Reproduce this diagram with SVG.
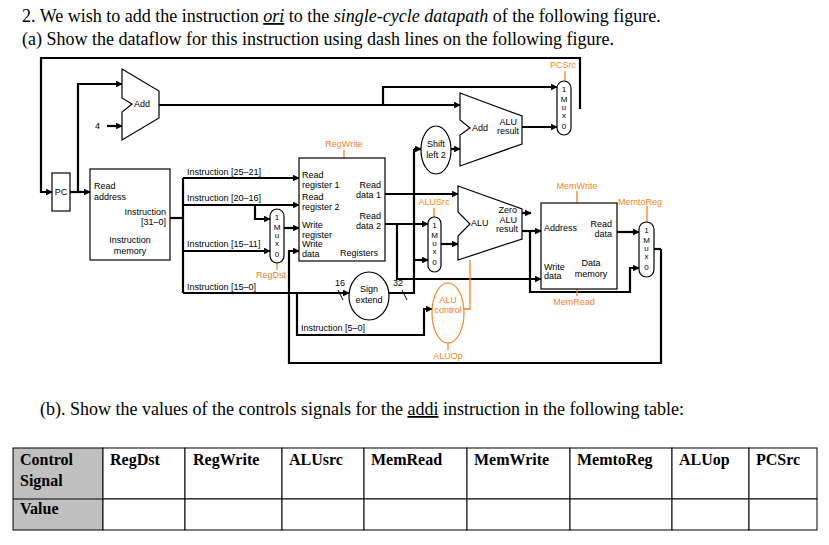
<svg xmlns="http://www.w3.org/2000/svg" width="829" height="545" viewBox="0 0 829 545">
<defs>
<marker id="ar" viewBox="0 0 10 10" refX="9" refY="5" markerWidth="3" markerHeight="3" orient="auto"><path d="M0,0 L10,5 L0,10 z" fill="#000"/></marker>
<style>
.t{font-family:"Liberation Serif",serif;font-size:18px;fill:#000}
.l{font-family:"Liberation Sans",Arial,sans-serif;font-size:9px;fill:#000}
.m{font-family:"Liberation Sans",Arial,sans-serif;font-size:8px;fill:#000;text-anchor:middle}
.o{font-family:"Liberation Sans",Arial,sans-serif;font-size:9px;fill:#f0862a}
.b{fill:#fff;stroke:#000;stroke-width:1.2}
.w{fill:none;stroke:#000;stroke-width:2.2}
.wa{fill:none;stroke:#000;stroke-width:2.2;marker-end:url(#ar)}
.c{fill:none;stroke:#f0862a;stroke-width:1.3}
.th{font-family:"Liberation Serif",serif;font-size:16px;font-weight:bold;fill:#000}
.cell{fill:#fff;stroke:#000;stroke-width:1}
</style>
</defs>
<rect width="829" height="545" fill="#fff"/>
<text class="t" x="22" y="22">2.  We wish to add the instruction <tspan font-style="italic" text-decoration="underline">ori</tspan> to the <tspan font-style="italic">single-cycle datapath</tspan> of the following figure.</text>
<text class="t" x="22" y="45">(a) Show the dataflow for this instruction using dash lines on the following figure.</text>

<g id="connectors">
<path class="wa" d="M579,108 H580 V58 H41 V192 H52"/>
<path class="wa" d="M70,192 H90"/>
<path class="wa" d="M78,192 V84 H122"/>
<path class="wa" d="M107,126 H122"/>
<path class="wa" d="M159,105 H460"/>
<path class="wa" d="M383,105 V87 H557"/>
<path class="wa" d="M522,127 H557"/>
<path class="wa" d="M451,149 H460"/>
<path class="w" d="M170,218 H183"/>
<path class="w" d="M183,178 V293"/>
<path class="wa" d="M183,178 H299"/>
<path class="wa" d="M183,205 H299"/>
<path class="wa" d="M255,205 V219 H270"/>
<path class="wa" d="M183,251 H270"/>
<path class="wa" d="M183,293 H349"/>
<path class="wa" d="M284,228 H299"/>
<path class="wa" d="M661,249 V363 H289 V251 H299"/>
<path class="wa" d="M297,293 V335 H424 V309 H432"/>
<path class="w" d="M389,293 H414 V149"/>
<path class="wa" d="M414,149 H421"/>
<path class="wa" d="M414,260 H428"/>
<path class="wa" d="M385,194 H458"/>
<path class="wa" d="M385,224 H428"/>
<path class="wa" d="M397,224 V279 H541"/>
<path class="wa" d="M441,244 H458"/>
<path class="wa" d="M522,213 H531"/>
<path class="wa" d="M522,231 H541"/>
<path class="wa" d="M530,231 V292 H630 V268 H639"/>
<path class="wa" d="M617,232 H639"/>
<path class="w" d="M654,249 H661"/>
<path d="M338,290 L343,300 M402,290 L407,300" stroke="#000" stroke-width="1"/>
<path class="c" d="M470,260 V309 H464" stroke-width="2"/>
<path class="c" d="M565,71 V81 M277,263 V270 M344,150 V158 M434,208 V217 M577,191 V203 M577,289 V296 M647,206 V222 M448,343 V350"/>
</g>

<g id="pc"><rect class="b" x="52" y="173" width="18" height="38"/><text class="l" x="61" y="195" text-anchor="middle">PC</text></g>
<g id="add1"><path class="b" d="M122,69 L159,91 V118 L122,140 V112 L132,104 L122,98 Z"/><text class="l" x="134" y="107">Add</text><text class="l" x="100" y="129" text-anchor="end">4</text></g>
<g id="imem"><rect class="b" x="90" y="169" width="80" height="91"/>
<text class="l" x="94" y="189">Read</text><text class="l" x="94" y="200">address</text>
<text class="l" x="166" y="215" text-anchor="end">Instruction</text><text class="l" x="166" y="225" text-anchor="end">[31–0]</text>
<text class="l" x="130" y="243" text-anchor="middle">Instruction</text><text class="l" x="130" y="254" text-anchor="middle">memory</text></g>
<g id="labels-instr">
<text class="l" x="187" y="175">Instruction [25–21]</text>
<text class="l" x="187" y="201">Instruction [20–16]</text>
<text class="l" x="187" y="247">Instruction [15–11]</text>
<text class="l" x="187" y="290">Instruction [15–0]</text>
<text class="l" x="301" y="331">Instruction [5–0]</text>
</g>
<g id="regdst"><rect class="b" x="270" y="209" width="14" height="54" rx="7"/>
<text class="m" x="277" y="220">1</text><text class="m" x="277" y="230">M</text><text class="m" x="277" y="238">u</text><text class="m" x="277" y="246">x</text><text class="m" x="277" y="257">0</text>
<text class="o" x="271" y="278" text-anchor="middle">RegDst</text></g>
<g id="regs"><rect class="b" x="299" y="158" width="86" height="103"/>
<text class="o" x="344" y="147" text-anchor="middle">RegWrite</text>
<text class="l" x="302" y="178">Read</text><text class="l" x="302" y="188">register 1</text>
<text class="l" x="302" y="200">Read</text><text class="l" x="302" y="210">register 2</text>
<text class="l" x="302" y="228">Write</text><text class="l" x="302" y="238">register</text>
<text class="l" x="302" y="247">Write</text><text class="l" x="302" y="257">data</text>
<text class="l" x="381" y="188" text-anchor="end">Read</text><text class="l" x="381" y="198" text-anchor="end">data 1</text>
<text class="l" x="381" y="219" text-anchor="end">Read</text><text class="l" x="381" y="229" text-anchor="end">data 2</text>
<text class="l" x="378" y="256" text-anchor="end">Registers</text></g>
<g id="signext"><ellipse class="b" cx="369" cy="296" rx="20" ry="24"/>
<text class="l" x="369" y="292" text-anchor="middle">Sign</text><text class="l" x="369" y="303" text-anchor="middle">extend</text>
<text class="l" x="340" y="286" text-anchor="middle">16</text><text class="l" x="398" y="286" text-anchor="middle">32</text></g>
<g id="shift"><ellipse class="b" cx="436" cy="150" rx="15" ry="24"/>
<text class="l" x="436" y="147" text-anchor="middle">Shift</text><text class="l" x="436" y="158" text-anchor="middle">left 2</text></g>
<g id="add2"><path class="b" d="M460,93 L522,116 V144 L460,166 V135 L470,128 L460,120 Z"/>
<text class="l" x="472" y="131">Add</text><text class="l" x="517" y="125" text-anchor="end">ALU</text><text class="l" x="519" y="134" text-anchor="end">result</text></g>
<g id="pcsrc"><rect class="b" x="557" y="81" width="14" height="54" rx="7"/>
<text class="o" x="563" y="68" text-anchor="middle">PCSrc</text>
<text class="m" x="564" y="92">1</text><text class="m" x="564" y="102">M</text><text class="m" x="564" y="110">u</text><text class="m" x="564" y="118">x</text><text class="m" x="564" y="129">0</text></g>
<g id="alusrc"><rect class="b" x="428" y="217" width="13" height="55" rx="6.5"/>
<text class="o" x="434" y="205" text-anchor="middle">ALUSrc</text>
<text class="m" x="434.5" y="228">1</text><text class="m" x="434.5" y="238">M</text><text class="m" x="434.5" y="246">u</text><text class="m" x="434.5" y="254">x</text><text class="m" x="434.5" y="265">0</text></g>
<g id="alu"><path class="b" d="M458,186 L522,209 V239 L458,260 V236 L470,224 L458,212 Z"/>
<text class="l" x="471" y="226">ALU</text><text class="l" x="517" y="213" text-anchor="end">Zero</text><text class="l" x="517" y="223" text-anchor="end">ALU</text><text class="l" x="518" y="232" text-anchor="end">result</text></g>
<g id="aluctl"><ellipse cx="448" cy="313" rx="16" ry="30" fill="#fff" stroke="#f0862a" stroke-width="1.2"/>
<text class="o" x="448" y="303" text-anchor="middle">ALU</text><text class="o" x="448" y="313" text-anchor="middle">control</text>
<text class="o" x="448" y="359" text-anchor="middle">ALUOp</text></g>
<g id="dmem"><rect class="b" x="541" y="203" width="76" height="86"/>
<text class="o" x="577" y="189" text-anchor="middle">MemWrite</text><text class="o" x="574" y="305" text-anchor="middle">MemRead</text>
<text class="l" x="544" y="231">Address</text><text class="l" x="612" y="227" text-anchor="end">Read</text><text class="l" x="612" y="237" text-anchor="end">data</text>
<text class="l" x="544" y="270">Write</text><text class="l" x="544" y="279">data</text>
<text class="l" x="591" y="266" text-anchor="middle">Data</text><text class="l" x="591" y="277" text-anchor="middle">memory</text></g>
<g id="memtoreg"><rect class="b" x="639" y="222" width="15" height="55" rx="7.5"/>
<text class="o" x="640" y="205" text-anchor="middle">MemtoReg</text>
<text class="m" x="646.5" y="233">1</text><text class="m" x="646.5" y="243">M</text><text class="m" x="646.5" y="251">u</text><text class="m" x="646.5" y="259">x</text><text class="m" x="646.5" y="270">0</text></g>

<text class="t" x="40" y="415">(b). Show the values of the controls signals for the <tspan text-decoration="underline">addi</tspan> instruction in the following table:</text>

<g id="table">
<rect x="13" y="448" width="90" height="82" fill="#c0c0c0" stroke="#000" stroke-width="1"/>
<path d="M13,499 H103" stroke="#000" stroke-width="1"/>
<rect class="cell" x="103" y="448" width="82" height="51"/><rect class="cell" x="185" y="448" width="97" height="51"/><rect class="cell" x="282" y="448" width="82" height="51"/><rect class="cell" x="364" y="448" width="103" height="51"/><rect class="cell" x="467" y="448" width="103" height="51"/><rect class="cell" x="570" y="448" width="102" height="51"/><rect class="cell" x="672" y="448" width="77" height="51"/><rect class="cell" x="749" y="448" width="68" height="51"/>
<rect class="cell" x="103" y="499" width="82" height="31"/><rect class="cell" x="185" y="499" width="97" height="31"/><rect class="cell" x="282" y="499" width="82" height="31"/><rect class="cell" x="364" y="499" width="103" height="31"/><rect class="cell" x="467" y="499" width="103" height="31"/><rect class="cell" x="570" y="499" width="102" height="31"/><rect class="cell" x="672" y="499" width="77" height="31"/><rect class="cell" x="749" y="499" width="68" height="31"/>
<text class="th" x="20" y="465">Control</text><text class="th" x="20" y="486">Signal</text><text class="th" x="20" y="514">Value</text>
<text class="th" x="110" y="465">RegDst</text><text class="th" x="193" y="465">RegWrite</text><text class="th" x="289" y="465">ALUsrc</text><text class="th" x="371" y="465">MemRead</text><text class="th" x="474" y="465">MemWrite</text><text class="th" x="577" y="465">MemtoReg</text><text class="th" x="679" y="465">ALUop</text><text class="th" x="756" y="465">PCSrc</text>
</g>
</svg>
